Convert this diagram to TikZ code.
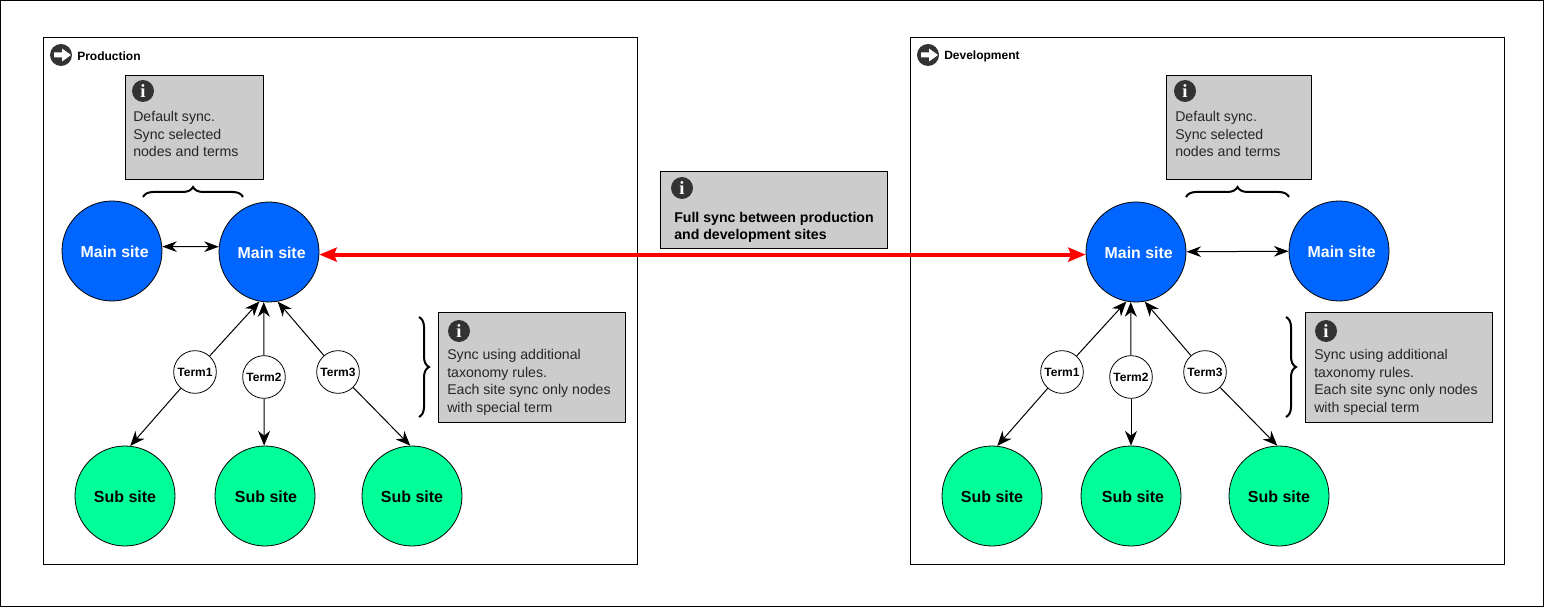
\documentclass[tikz,border=0pt]{standalone}
\usepackage{fontspec}
\setmainfont{Liberation Sans}
\newfontfamily\iconfont{Liberation Serif}
\usetikzlibrary{arrows.meta,decorations.pathreplacing}
\definecolor{mainblue}{HTML}{0066FF}
\definecolor{subgreen}{HTML}{00FF99}
\definecolor{notegray}{HTML}{CCCCCC}
\definecolor{icondark}{HTML}{333333}
\newcommand{\goarrow}[1]{\fill [white] (#1) ++(-7,-2.5) -- ++(8,0) -- ++(0,-4) -- ++(9,6.5) -- ++(-9,6.5) -- ++(0,-4) -- ++(-8,0) -- cycle;}
\tikzset{
  frameline/.style={draw=black, line width=0.75pt},
  mainsite/.style={circle, draw=black, line width=0.6pt, fill=mainblue, text=white, minimum size=75pt, inner sep=0pt, text height=10.3pt, text depth=0pt, execute at begin node=\hspace*{4pt}, font=\fontsize{11.9}{14}\selectfont\bfseries},
  subsite/.style={circle, draw=black, line width=0.6pt, fill=subgreen, text=black, minimum size=75pt, inner sep=0pt, text height=10pt, text depth=0pt, font=\fontsize{12}{14}\selectfont\bfseries},
  termsite/.style={circle, draw=black, line width=0.6pt, fill=white, minimum size=32pt, inner sep=0pt, font=\fontsize{9}{11}\selectfont\bfseries},
  notebox/.style={rectangle, draw=black, line width=0.75pt, fill=notegray, inner sep=0pt},
  notetext/.style={anchor=west, align=left, inner sep=0pt, text=black!85, font=\fontsize{10.6}{13.2}\selectfont},
  boldnote/.style={anchor=west, align=left, inner sep=0pt, font=\fontsize{10.6}{13.1}\selectfont\bfseries},
  infoicon/.style={circle, fill=icondark, text=white, minimum size=16.5pt, inner sep=0pt, font=\fontsize{14}{14}\iconfont\bfseries},
  goicon/.style={circle, fill=icondark, minimum size=16.5pt, inner sep=0pt},
  panelname/.style={anchor=west, inner sep=0pt, font=\fontsize{9}{11}\selectfont\bfseries},
  syncarrow/.style={line width=0.75pt, -{Stealth[length=11pt,width=9pt,inset=3.5pt]}},
  twoway/.style={line width=0.75pt, {Stealth[length=11pt,width=8pt,inset=3.5pt]}-{Stealth[length=11pt,width=8pt,inset=3.5pt]}},
  redlink/.style={draw=red, line width=3pt, {Stealth[length=13pt,width=10.5pt,inset=2pt]}-{Stealth[length=13pt,width=10.5pt,inset=2pt]}},
  syncbrace/.style={line width=1.5pt, decorate, decoration={brace, amplitude=7.5pt}}
}
\begin{document}
\begin{tikzpicture}[x=0.75pt, y=-0.75pt]
\useasboundingbox (0,0) rectangle (1545,609);
\draw [frameline] (0.5,0.5) rectangle (1543,606);
\node [frameline, minimum width=445.5pt, minimum height=394.5pt, inner sep=0pt] (production) at (340,301) {};
\node [frameline, minimum width=445.5pt, minimum height=394.5pt, inner sep=0pt] (development) at (1207,301) {};
% production
\node [goicon] (prodicon) at (61,55) {};
\goarrow{prodicon}
\node [panelname] (prodname) at (77,56.5) {Production};
\node [notebox, minimum width=103.5pt, minimum height=78pt] (prodnoteA) at (194,128) {};
\node [infoicon] (prodinfoA) at (143,91) {i};
\node [notetext] (prodtextA) at (133,134) {Default sync.\\Sync selected\\nodes and terms};
\draw [syncbrace] (143,197) -- (243,197);
\node [mainsite] (prodmainA) at (112,251) {Main site};
\node [mainsite] (prodmainB) at (269,252) {Main site};
\draw [twoway] (prodmainA.5) -- (prodmainB.174);
\node [termsite] (prodtermA) at (195,372) {Term1};
\node [termsite] (prodtermB) at (264,377) {Term2};
\node [termsite] (prodtermC) at (338,372) {Term3};
\node [subsite] (prodsubA) at (125,496) {Sub site};
\node [subsite] (prodsubB) at (265,496) {\hspace*{1.5pt}Sub site};
\node [subsite] (prodsubC) at (412,496) {Sub site};
\draw [syncarrow] (prodtermA) -- (prodmainB.259);
\draw [syncarrow] (prodtermB) -- (prodmainB.264);
\draw [syncarrow] (prodtermC) -- (prodmainB.280);
\draw [syncarrow] (prodtermA) -- (prodsubA.84);
\draw [syncarrow] (prodtermB) -- (prodsubB.91);
\draw [syncarrow] (prodtermC) -- (prodsubC.92);
\draw [syncbrace] (419,317) -- (419,417);
\node [notebox, minimum width=140.25pt, minimum height=81.75pt] (prodnoteB) at (531.5,367.5) {};
\node [infoicon] (prodinfoB) at (459,331) {i};
\node [notetext] (prodtextB) at (447,382.5) {Sync using additional\\taxonomy rules.\\Each site sync only nodes\\with special term};
% between the two
\node [notebox, minimum width=170.25pt, minimum height=57.25pt] (fullnote) at (773.5,210) {};
\node [infoicon] (fullinfo) at (682,188) {i};
\node [boldnote] (fulltext) at (674,227.5) {Full sync between production\\and development sites};
% development
\node [goicon] (devicon) at (928,55) {};
\goarrow{devicon}
\node [panelname] (devname) at (944,56.5) {Development};
\node [notebox, minimum width=108.75pt, minimum height=78pt] (devnoteA) at (1238.5,128) {};
\node [infoicon] (devinfoA) at (1185,91) {i};
\node [notetext] (devtextA) at (1175,134) {Default sync.\\Sync selected\\nodes and terms};
\draw [syncbrace] (1186,197) -- (1289,197);
\node [mainsite] (devmainA) at (1136,252) {Main site};
\node [mainsite] (devmainB) at (1339,251) {Main site};
\draw [twoway] (devmainA) -- (devmainB);
\node [termsite] (devtermA) at (1062,372) {Term1};
\node [termsite] (devtermB) at (1131,377) {Term2};
\node [termsite] (devtermC) at (1205,372) {Term3};
\node [subsite] (devsubA) at (992,496) {Sub site};
\node [subsite] (devsubB) at (1131,496) {\hspace*{3pt}Sub site};
\node [subsite] (devsubC) at (1279,496) {Sub site};
\draw [syncarrow] (devtermA) -- (devmainA.259);
\draw [syncarrow] (devtermB) -- (devmainA.264);
\draw [syncarrow] (devtermC) -- (devmainA.280);
\draw [syncarrow] (devtermA) -- (devsubA.84);
\draw [syncarrow] (devtermB) -- (devsubB.90);
\draw [syncarrow] (devtermC) -- (devsubC.92);
\draw [syncbrace] (1286,317) -- (1286,417);
\node [notebox, minimum width=140.25pt, minimum height=81.75pt] (devnoteB) at (1398.5,367.5) {};
\node [infoicon] (devinfoB) at (1326,331) {i};
\node [notetext] (devtextB) at (1314,382.5) {Sync using additional\\taxonomy rules.\\Each site sync only nodes\\with special term};
% full sync link
\draw [redlink] (prodmainB.-3) -- (devmainA.183);
\end{tikzpicture}
\end{document}
